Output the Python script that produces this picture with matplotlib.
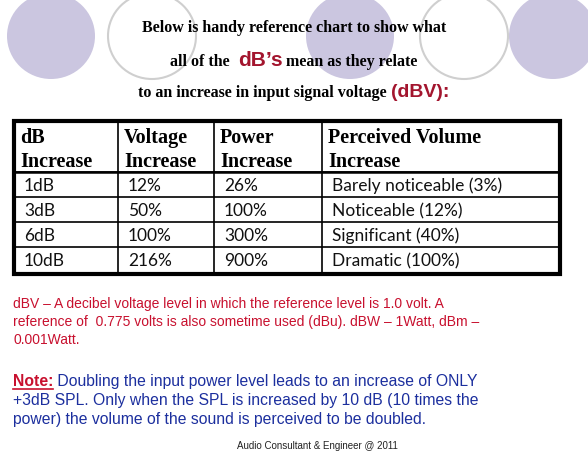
import matplotlib
matplotlib.use("Agg")
import matplotlib.pyplot as plt
from matplotlib.patches import Ellipse, Rectangle

headers = [["dB", "Increase"], ["Voltage", "Increase"], ["Power", "Increase"], ["Perceived Volume", "Increase"]]
db_steps = ["1dB", "3dB", "6dB", "10dB"]
voltage = ["12%", "50%", "100%", "216%"]
power = ["26%", "100%", "300%", "900%"]
perceived = ["Barely noticeable (3%)", "Noticeable (12%)", "Significant (40%)", "Dramatic (100%)"]

fig = plt.figure(figsize=(5.88, 4.70), dpi=100)
ax = fig.add_axes([0, 0, 1, 1])
ax.set_xlim(0, 588)
ax.set_ylim(470, 0)
ax.axis("off")
fig.patch.set_facecolor("white")

lav = "#cbc6e0"
# decorative circles
for cx in [51, 350, 553]:
    ax.add_patch(Ellipse((cx, 36), 88, 86, fc=lav, ec="none", zorder=0))
for cx in [152, 464]:
    ax.add_patch(Ellipse((cx, 36), 88, 86, fc="none", ec="#cfcfcf", lw=1.5, zorder=0))

fig.canvas.draw()
r = fig.canvas.get_renderer()


def run(x, y, parts, center=False):
    # parts: list of (text, kwargs); placed one after another
    widths = []
    objs = []
    for s, kw in parts:
        t = ax.text(0, y, s, va="baseline", **kw)
        objs.append(t)
        widths.append(t.get_window_extent(r).width)
    if center:
        x = x - sum(widths) / 2
    for t, w in zip(objs, widths):
        t.set_x(x)
        x += w


serif = dict(family="Liberation Serif", fontsize=11.5, fontweight="bold", color="black")
red_big = dict(family="Liberation Sans", fontweight="bold", color="#a3152e")
run(294, 32, [("Below is handy reference chart to show what", serif)], center=True)
run(294, 66, [("all of the  ", serif), ("dB\u2019s", dict(red_big, fontsize=15)), (" mean as they relate", serif)], center=True)
run(294, 97, [("to an increase in input signal voltage ", serif), ("(dBV):", dict(red_big, fontsize=14))], center=True)

# table
cols = [14, 118, 214, 322, 560]
rows = [121, 172, 197, 222, 247, 274]
ax.add_patch(Rectangle((cols[0], rows[0]), cols[-1] - cols[0], rows[-1] - rows[0], fc="white", ec="black", lw=3, zorder=2))
for c in cols[1:-1]:
    ax.plot([c, c], [rows[0], rows[-1]], color="black", lw=1.2, zorder=3)
for rr in rows[1:-1]:
    ax.plot([cols[0], cols[-1]], [rr, rr], color="black", lw=1.2, zorder=3)
ax.plot([cols[0], cols[-1]], [rows[1], rows[1]], color="black", lw=1.8, zorder=3)

for i, h in enumerate(headers):
    for j, line in enumerate(h):
        ax.text(cols[i] + 6, 143 + j * 24, line, family="Liberation Serif", fontweight="bold",
                fontsize=14.5, va="baseline", zorder=4)
for k, vals in enumerate(zip(db_steps, voltage, power, perceived)):
    for i, v in enumerate(vals):
        ax.text(cols[i] + 10, rows[k + 1] + 19, v, family="Lato", fontsize=12.5,
                va="baseline", zorder=4, color="#111111")

red = "#c8102e"
redkw = dict(family="Liberation Sans", fontsize=10, color=red)
ax.text(13, 308, "dBV \u2013 A decibel voltage level in which the reference level is 1.0 volt. A", **redkw)
ax.text(13, 326, "reference of  0.775 volts is also sometime used (dBu). dBW \u2013 1Watt, dBm \u2013", **redkw)
ax.text(13, 344, "0.001Watt.", **redkw)

blue = "#1c2f9e"
bluekw = dict(family="Liberation Sans", fontsize=11.3, color=blue)
note = ax.text(13, 386, "Note:", family="Liberation Sans", fontsize=11.3, color=red, fontweight="bold")
nw = note.get_window_extent(r).width
ax.plot([13, 13 + nw], [389, 389], color=red, lw=1.2)
ax.text(13 + nw, 386, " Doubling the input power level leads to an increase of ONLY", **bluekw)
ax.text(13, 405, "+3dB SPL. Only when the SPL is increased by 10 dB (10 times the", **bluekw)
ax.text(13, 424, "power) the volume of the sound is perceived to be doubled.", **bluekw)

ax.text(317, 449, "Audio Consultant & Engineer @ 2011", family="Liberation Sans", fontsize=7,
        ha="center", va="baseline", color="#222222")

fig.savefig("out.png", dpi=100)
